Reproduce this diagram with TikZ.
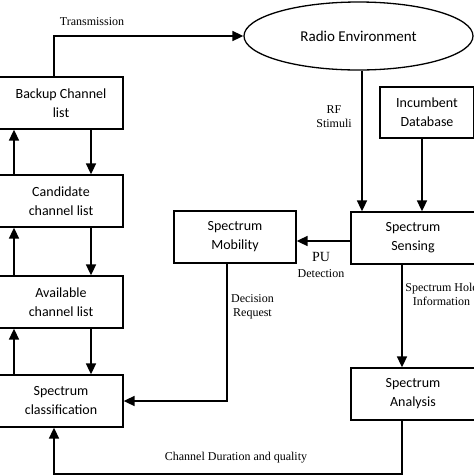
\documentclass[tikz,border=0pt]{standalone}
\usepackage{fontspec}
\setmainfont{Liberation Serif}
\newfontfamily\boxfont{Carlito}
\usetikzlibrary{arrows.meta,shapes.geometric}

\begin{document}
\begin{tikzpicture}[x=1pt,y=-1pt,
		blk/.style={draw,line width=1.3pt,minimum width=124pt,minimum height=52pt,align=center,inner sep=0pt,font=\boxfont\fontsize{14}{19}\selectfont},
		lbl/.style={align=center,inner sep=0pt,font=\fontsize{12}{14}\selectfont},
		arr/.style={line width=1.7pt,-{Triangle[length=11pt,width=10pt]}}]
			\useasboundingbox (0,0) rectangle (474,475);
			
			\node[ellipse,draw,line width=1.3pt,minimum width=229pt,minimum height=68pt,inner sep=0pt,font=\boxfont\fontsize{15}{18}\selectfont] (radio) at (358.5,36) {Radio Environment};
			
			\node[blk] (backup) at (61,103) {Backup Channel\\list};
			\node[blk] (cand) at (61,201) {Candidate\\channel list};
			\node[blk] (avail) at (61,302) {Available\\channel list};
			\node[blk] (classif) at (61,401) {Spectrum\\classification};
			
			\node[blk,minimum width=94pt,minimum height=51pt] (incumb) at (427,112.5) {Incumbent\\Database};
			\node[blk] (sensing) at (413,238) {Spectrum\\Sensing};
			\node[blk,minimum width=122pt] (mobility) at (235,237) {Spectrum\\Mobility};
			\node[blk] (analysis) at (413,394) {Spectrum\\Analysis};
			
			\node[lbl] (trans) at (92,22) {Transmission};
			\node[lbl] (rf) at (334,117) {RF\\Stimuli};
			\node[lbl,font=\fontsize{12}{16}\selectfont] (pu) at (321,265) {{\fontsize{14}{16}\selectfont PU}\\Detection};
			\node[lbl] (hole) at (441.5,294) {Spectrum Hole\\Information};
			\node[lbl] (decis) at (252.5,307) {Decision\\Request};
			\node[lbl] (durat) at (236,458) {Channel Duration and quality};
			
			\draw[arr] ([xshift=-7]backup.north) |- (radio.west);
			\draw[arr] ([xshift=-47]cand.north) -- ([xshift=-47]backup.south);
			\draw[arr] ([xshift=-47]avail.north) -- ([xshift=-47]cand.south);
			\draw[arr] ([xshift=-47]classif.north) -- ([xshift=-47]avail.south);
			\draw[arr] ([xshift=30]backup.south) -- ([xshift=30]cand.north);
			\draw[arr] ([xshift=30]cand.south) -- ([xshift=30]avail.north);
			\draw[arr] ([xshift=30]avail.south) -- ([xshift=30]classif.north);
			
			\draw[arr] ([xshift=3.5]radio.south) -- ([xshift=-51]sensing.north);
			\draw[arr] ([xshift=-5]incumb.south) -- ([xshift=9]sensing.north);
			\draw[arr] ([yshift=-3]sensing.west) -- ([yshift=-4]mobility.east);
			\draw[arr] ([xshift=-11]sensing.south) -- ([xshift=-11]analysis.north);
			\draw[arr] ([xshift=-8]mobility.south) |- (classif.east);
			\draw[arr] ([xshift=-11]analysis.south) -- ++(0,53) -| ([xshift=-7]classif.south);
		\end{tikzpicture}
\end{document}
